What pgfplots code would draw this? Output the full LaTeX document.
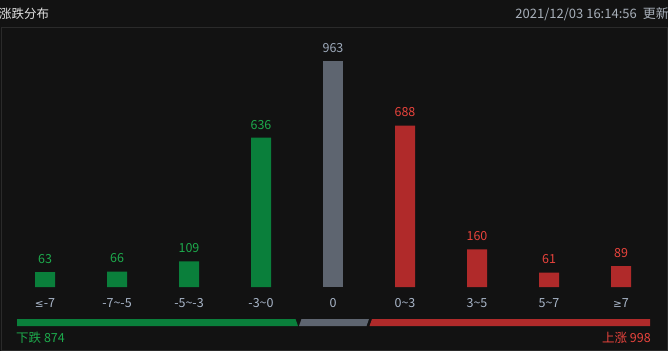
\documentclass[border=0pt]{standalone}
\usepackage{pgfplots}
\pgfplotsset{compat=1.18}
\usepackage{fontspec}
\setmainfont{Noto Sans CJK SC}
\newfontfamily\symfont{DejaVu Sans}
\definecolor{bg}{HTML}{121212}
\definecolor{brd}{HTML}{2A2A2A}
\definecolor{gbar}{HTML}{0A7F3B}
\definecolor{gtxt}{HTML}{1DAA4C}
\definecolor{rbar}{HTML}{B02A2A}
\definecolor{rtxt}{HTML}{E8433C}
\definecolor{nbar}{HTML}{5E6570}
\definecolor{ntxt}{HTML}{9DA9BA}
\definecolor{ticktxt}{HTML}{A9B6C9}
\definecolor{ttl}{HTML}{E2E2E2}
\definecolor{tstamp}{HTML}{A8B0BA}
\begin{document}
\begin{tikzpicture}[x=1pt,y=1pt]
\useasboundingbox (0,0) rectangle (668,351);
\fill[bg] (0,0) rectangle (668,351);
\draw[brd,line width=1pt] (1,0.5) -- (1,323) -- (667,323) -- (667,0.5) -- cycle;
\node[anchor=west,text=ttl,font=\fontsize{12.5}{14}\selectfont,inner sep=0pt] at (-1,337) {涨跌分布};
\node[anchor=east,text=tstamp,font=\fontsize{13}{15}\selectfont,inner sep=0pt] at (669,337) {2021/12/03 16:14:56\hspace{6pt}更新};
\begin{axis}[
  at={(0pt,64pt)}, anchor=south west,
  scale only axis, width=668pt, height=226pt,
  xmin=-0.625, xmax=8.6528, ymin=0, ymax=963,
  axis x line=bottom, axis y line=none,
  axis line style={draw=none}, major tick length=0pt,
  xtick={0,...,8},
  xticklabels={{\symfont\fontsize{10.5}{12}\selectfont ≤}-7, -7\textasciitilde-5, -5\textasciitilde-3, -3\textasciitilde0, 0, 0\textasciitilde3, 3\textasciitilde5, 5\textasciitilde7, {\symfont\fontsize{10.5}{12}\selectfont ≥}7},
  xticklabel style={text=ticktxt, font=\fontsize{12.5}{14}\selectfont, anchor=center, yshift=-16pt},
  ytick=\empty,
  clip=false,
  ybar, bar width=20pt, bar shift=0pt,
  nodes near coords,
  every node near coord/.append style={font=\fontsize{12.5}{14}\selectfont, yshift=5pt},
  /pgf/number format/assume math mode=true,
]
\addplot[fill=gbar, draw=none, every node near coord/.append style={text=gtxt}] coordinates {(0,63) (1,66) (2,109) (3,636)};
\addplot[fill=nbar, draw=none, every node near coord/.append style={text=ntxt}] coordinates {(4,963)};
\addplot[fill=rbar, draw=none, every node near coord/.append style={text=rtxt}] coordinates {(5,688) (6,160) (7,61) (8,89)};
\end{axis}
\fill[gbar] (17,25) -- (298,25) -- (295.5,32) -- (17,32) -- cycle;
\fill[nbar] (299,25) -- (366.5,25) -- (369,32) -- (301.5,32) -- cycle;
\fill[rbar] (369.5,25) -- (650,25) -- (650,32) -- (372,32) -- cycle;
\node[anchor=west,text=gtxt,font=\fontsize{12.5}{14}\selectfont,inner sep=0pt] at (16,13) {下跌 874};
\node[anchor=east,text=rtxt,font=\fontsize{12.5}{14}\selectfont,inner sep=0pt] at (651,13) {上涨 998};
\end{tikzpicture}
\end{document}
